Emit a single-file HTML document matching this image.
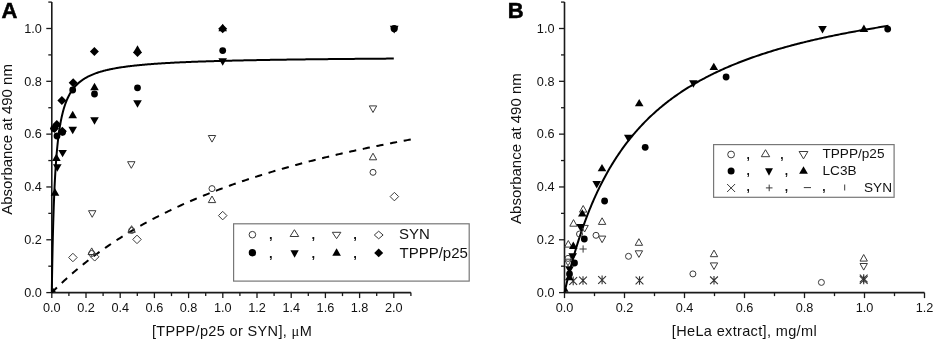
<!DOCTYPE html>
<html><head><meta charset="utf-8"><style>
html,body{margin:0;padding:0;background:#fff;}
svg{display:block;font-family:"Liberation Sans",sans-serif;will-change:transform}
</style></head><body>
<svg width="934" height="341" viewBox="0 0 934 341" style='font-family:"Liberation Sans",sans-serif'>
<rect width="934" height="341" fill="#fff"/>
<path d="M51.8,2.089999999999975L51.8,292.6" stroke="#1a1a1a" stroke-width="1.6" fill="none"/>
<path d="M51.8,292.6L410.90000000000003,292.6" stroke="#1a1a1a" stroke-width="1.6" fill="none"/>
<path d="M46.3,292.60L51.8,292.60" stroke="#1a1a1a" stroke-width="1.3"/>
<text x="41.8" y="296.80" text-anchor="end" font-size="12.7" fill="#111">0.0</text>
<path d="M48.3,266.19L51.8,266.19" stroke="#1a1a1a" stroke-width="1.3"/>
<path d="M46.3,239.78L51.8,239.78" stroke="#1a1a1a" stroke-width="1.3"/>
<text x="41.8" y="243.98" text-anchor="end" font-size="12.7" fill="#111">0.2</text>
<path d="M48.3,213.37L51.8,213.37" stroke="#1a1a1a" stroke-width="1.3"/>
<path d="M46.3,186.96L51.8,186.96" stroke="#1a1a1a" stroke-width="1.3"/>
<text x="41.8" y="191.16" text-anchor="end" font-size="12.7" fill="#111">0.4</text>
<path d="M48.3,160.55L51.8,160.55" stroke="#1a1a1a" stroke-width="1.3"/>
<path d="M46.3,134.14L51.8,134.14" stroke="#1a1a1a" stroke-width="1.3"/>
<text x="41.8" y="138.34" text-anchor="end" font-size="12.7" fill="#111">0.6</text>
<path d="M48.3,107.73L51.8,107.73" stroke="#1a1a1a" stroke-width="1.3"/>
<path d="M46.3,81.32L51.8,81.32" stroke="#1a1a1a" stroke-width="1.3"/>
<text x="41.8" y="85.52" text-anchor="end" font-size="12.7" fill="#111">0.8</text>
<path d="M48.3,54.91L51.8,54.91" stroke="#1a1a1a" stroke-width="1.3"/>
<path d="M46.3,28.50L51.8,28.50" stroke="#1a1a1a" stroke-width="1.3"/>
<text x="41.8" y="32.70" text-anchor="end" font-size="12.7" fill="#111">1.0</text>
<path d="M48.3,2.09L51.8,2.09" stroke="#1a1a1a" stroke-width="1.3"/>
<path d="M51.80,292.6L51.80,298.1" stroke="#1a1a1a" stroke-width="1.3"/>
<text x="51.80" y="311.5" text-anchor="middle" font-size="12.7" fill="#111">0.0</text>
<path d="M86.00,292.6L86.00,298.1" stroke="#1a1a1a" stroke-width="1.3"/>
<text x="86.00" y="311.5" text-anchor="middle" font-size="12.7" fill="#111">0.2</text>
<path d="M120.20,292.6L120.20,298.1" stroke="#1a1a1a" stroke-width="1.3"/>
<text x="120.20" y="311.5" text-anchor="middle" font-size="12.7" fill="#111">0.4</text>
<path d="M154.40,292.6L154.40,298.1" stroke="#1a1a1a" stroke-width="1.3"/>
<text x="154.40" y="311.5" text-anchor="middle" font-size="12.7" fill="#111">0.6</text>
<path d="M188.60,292.6L188.60,298.1" stroke="#1a1a1a" stroke-width="1.3"/>
<text x="188.60" y="311.5" text-anchor="middle" font-size="12.7" fill="#111">0.8</text>
<path d="M222.80,292.6L222.80,298.1" stroke="#1a1a1a" stroke-width="1.3"/>
<text x="222.80" y="311.5" text-anchor="middle" font-size="12.7" fill="#111">1.0</text>
<path d="M257.00,292.6L257.00,298.1" stroke="#1a1a1a" stroke-width="1.3"/>
<text x="257.00" y="311.5" text-anchor="middle" font-size="12.7" fill="#111">1.2</text>
<path d="M291.20,292.6L291.20,298.1" stroke="#1a1a1a" stroke-width="1.3"/>
<text x="291.20" y="311.5" text-anchor="middle" font-size="12.7" fill="#111">1.4</text>
<path d="M325.40,292.6L325.40,298.1" stroke="#1a1a1a" stroke-width="1.3"/>
<text x="325.40" y="311.5" text-anchor="middle" font-size="12.7" fill="#111">1.6</text>
<path d="M359.60,292.6L359.60,298.1" stroke="#1a1a1a" stroke-width="1.3"/>
<text x="359.60" y="311.5" text-anchor="middle" font-size="12.7" fill="#111">1.8</text>
<path d="M393.80,292.6L393.80,298.1" stroke="#1a1a1a" stroke-width="1.3"/>
<text x="393.80" y="311.5" text-anchor="middle" font-size="12.7" fill="#111">2.0</text>
<path d="M68.90,292.6L68.90,296.1" stroke="#1a1a1a" stroke-width="1.3"/>
<path d="M103.10,292.6L103.10,296.1" stroke="#1a1a1a" stroke-width="1.3"/>
<path d="M137.30,292.6L137.30,296.1" stroke="#1a1a1a" stroke-width="1.3"/>
<path d="M171.50,292.6L171.50,296.1" stroke="#1a1a1a" stroke-width="1.3"/>
<path d="M205.70,292.6L205.70,296.1" stroke="#1a1a1a" stroke-width="1.3"/>
<path d="M239.90,292.6L239.90,296.1" stroke="#1a1a1a" stroke-width="1.3"/>
<path d="M274.10,292.6L274.10,296.1" stroke="#1a1a1a" stroke-width="1.3"/>
<path d="M308.30,292.6L308.30,296.1" stroke="#1a1a1a" stroke-width="1.3"/>
<path d="M342.50,292.6L342.50,296.1" stroke="#1a1a1a" stroke-width="1.3"/>
<path d="M376.70,292.6L376.70,296.1" stroke="#1a1a1a" stroke-width="1.3"/>
<path d="M410.90,292.6L410.90,296.1" stroke="#1a1a1a" stroke-width="1.3"/>
<path d="M564.5,2.089999999999975L564.5,292.6" stroke="#1a1a1a" stroke-width="1.6" fill="none"/>
<path d="M564.5,292.6L924.5,292.6" stroke="#1a1a1a" stroke-width="1.6" fill="none"/>
<path d="M559.0,292.60L564.5,292.60" stroke="#1a1a1a" stroke-width="1.3"/>
<text x="554.5" y="296.80" text-anchor="end" font-size="12.7" fill="#111">0.0</text>
<path d="M561.0,266.19L564.5,266.19" stroke="#1a1a1a" stroke-width="1.3"/>
<path d="M559.0,239.78L564.5,239.78" stroke="#1a1a1a" stroke-width="1.3"/>
<text x="554.5" y="243.98" text-anchor="end" font-size="12.7" fill="#111">0.2</text>
<path d="M561.0,213.37L564.5,213.37" stroke="#1a1a1a" stroke-width="1.3"/>
<path d="M559.0,186.96L564.5,186.96" stroke="#1a1a1a" stroke-width="1.3"/>
<text x="554.5" y="191.16" text-anchor="end" font-size="12.7" fill="#111">0.4</text>
<path d="M561.0,160.55L564.5,160.55" stroke="#1a1a1a" stroke-width="1.3"/>
<path d="M559.0,134.14L564.5,134.14" stroke="#1a1a1a" stroke-width="1.3"/>
<text x="554.5" y="138.34" text-anchor="end" font-size="12.7" fill="#111">0.6</text>
<path d="M561.0,107.73L564.5,107.73" stroke="#1a1a1a" stroke-width="1.3"/>
<path d="M559.0,81.32L564.5,81.32" stroke="#1a1a1a" stroke-width="1.3"/>
<text x="554.5" y="85.52" text-anchor="end" font-size="12.7" fill="#111">0.8</text>
<path d="M561.0,54.91L564.5,54.91" stroke="#1a1a1a" stroke-width="1.3"/>
<path d="M559.0,28.50L564.5,28.50" stroke="#1a1a1a" stroke-width="1.3"/>
<text x="554.5" y="32.70" text-anchor="end" font-size="12.7" fill="#111">1.0</text>
<path d="M561.0,2.09L564.5,2.09" stroke="#1a1a1a" stroke-width="1.3"/>
<path d="M564.50,292.6L564.50,298.1" stroke="#1a1a1a" stroke-width="1.3"/>
<text x="564.50" y="311.5" text-anchor="middle" font-size="12.7" fill="#111">0.0</text>
<path d="M624.50,292.6L624.50,298.1" stroke="#1a1a1a" stroke-width="1.3"/>
<text x="624.50" y="311.5" text-anchor="middle" font-size="12.7" fill="#111">0.2</text>
<path d="M684.50,292.6L684.50,298.1" stroke="#1a1a1a" stroke-width="1.3"/>
<text x="684.50" y="311.5" text-anchor="middle" font-size="12.7" fill="#111">0.4</text>
<path d="M744.50,292.6L744.50,298.1" stroke="#1a1a1a" stroke-width="1.3"/>
<text x="744.50" y="311.5" text-anchor="middle" font-size="12.7" fill="#111">0.6</text>
<path d="M804.50,292.6L804.50,298.1" stroke="#1a1a1a" stroke-width="1.3"/>
<text x="804.50" y="311.5" text-anchor="middle" font-size="12.7" fill="#111">0.8</text>
<path d="M864.50,292.6L864.50,298.1" stroke="#1a1a1a" stroke-width="1.3"/>
<text x="864.50" y="311.5" text-anchor="middle" font-size="12.7" fill="#111">1.0</text>
<path d="M924.50,292.6L924.50,298.1" stroke="#1a1a1a" stroke-width="1.3"/>
<text x="924.50" y="311.5" text-anchor="middle" font-size="12.7" fill="#111">1.2</text>
<path d="M594.50,292.6L594.50,296.1" stroke="#1a1a1a" stroke-width="1.3"/>
<path d="M654.50,292.6L654.50,296.1" stroke="#1a1a1a" stroke-width="1.3"/>
<path d="M714.50,292.6L714.50,296.1" stroke="#1a1a1a" stroke-width="1.3"/>
<path d="M774.50,292.6L774.50,296.1" stroke="#1a1a1a" stroke-width="1.3"/>
<path d="M834.50,292.6L834.50,296.1" stroke="#1a1a1a" stroke-width="1.3"/>
<path d="M894.50,292.6L894.50,296.1" stroke="#1a1a1a" stroke-width="1.3"/>
<text x="1.6" y="18.2" font-size="22" font-weight="bold" fill="#000" stroke="#000" stroke-width="0.5">A</text>
<text x="507.8" y="18.2" font-size="22" font-weight="bold" fill="#000" stroke="#000" stroke-width="0.5">B</text>
<text transform="translate(11.9,139.4) rotate(-90) scale(1.07,1)" text-anchor="middle" font-size="14" fill="#111">Absorbance at 490 nm</text>
<text transform="translate(521.3,148.6) rotate(-90) scale(1.07,1)" text-anchor="middle" font-size="14" fill="#111">Absorbance at 490 nm</text>
<text x="232" y="335.8" text-anchor="middle" font-size="14.5" letter-spacing="0.35" fill="#111">[TPPP/p25 or SYN], <tspan font-family="Liberation Serif">&#956;</tspan>M</text>
<text x="744.4" y="335.8" text-anchor="middle" font-size="14.5" letter-spacing="0.35" fill="#111">[HeLa extract], mg/ml</text>
<path d="M51.80,292.60 L51.80,292.45 L51.81,292.01 L51.82,291.28 L51.83,290.26 L51.85,288.96 L51.88,287.40 L51.90,285.58 L51.94,283.51 L51.97,281.21 L52.01,278.70 L52.06,275.98 L52.11,273.08 L52.16,270.02 L52.22,266.80 L52.28,263.46 L52.35,260.00 L52.42,256.44 L52.49,252.80 L52.57,249.09 L52.65,245.33 L52.74,241.53 L52.83,237.70 L52.93,233.87 L53.03,230.03 L53.14,226.20 L53.24,222.40 L53.36,218.61 L53.48,214.87 L53.60,211.16 L53.72,207.51 L53.85,203.90 L53.99,200.36 L54.13,196.87 L54.27,193.46 L54.42,190.10 L54.57,186.82 L54.73,183.61 L54.89,180.47 L55.05,177.41 L55.22,174.42 L55.39,171.50 L55.57,168.65 L55.75,165.88 L55.94,163.19 L56.13,160.56 L56.32,158.00 L56.52,155.52 L56.72,153.10 L56.93,150.75 L57.14,148.47 L57.36,146.25 L57.58,144.10 L57.80,142.01 L58.03,139.98 L58.27,138.00 L58.50,136.09 L58.74,134.22 L58.99,132.42 L59.24,130.66 L59.49,128.96 L59.75,127.31 L60.02,125.70 L60.28,124.14 L60.56,122.63 L60.83,121.16 L61.11,119.73 L61.40,118.34 L61.68,116.99 L61.98,115.69 L62.27,114.41 L62.58,113.18 L62.88,111.98 L63.19,110.81 L63.50,109.68 L63.82,108.58 L64.15,107.50 L64.47,106.46 L64.80,105.45 L65.14,104.46 L65.48,103.50 L65.82,102.57 L66.17,101.66 L66.53,100.78 L66.88,99.92 L67.24,99.09 L67.61,98.27 L67.98,97.48 L68.35,96.70 L68.73,95.95 L69.11,95.22 L69.50,94.51 L69.89,93.81 L70.29,93.13 L70.69,92.47 L71.09,91.82 L71.50,91.20 L71.91,90.58 L72.33,89.99 L72.75,89.40 L73.17,88.83 L73.60,88.28 L74.04,87.74 L74.48,87.21 L74.92,86.69 L75.37,86.19 L75.82,85.69 L76.27,85.21 L76.73,84.74 L77.20,84.28 L77.66,83.84 L78.14,83.40 L78.61,82.97 L79.09,82.55 L79.58,82.14 L80.07,81.74 L80.56,81.35 L81.06,80.97 L81.56,80.59 L82.07,80.23 L82.58,79.87 L83.10,79.52 L83.61,79.17 L84.14,78.84 L84.67,78.51 L85.20,78.19 L85.73,77.87 L86.28,77.56 L86.82,77.26 L87.37,76.96 L87.92,76.67 L88.48,76.39 L89.04,76.11 L89.61,75.84 L90.18,75.57 L90.76,75.31 L91.34,75.05 L91.92,74.80 L92.51,74.55 L93.10,74.31 L93.69,74.07 L94.30,73.84 L94.90,73.61 L95.51,73.38 L96.12,73.16 L96.74,72.95 L97.36,72.73 L97.99,72.53 L98.62,72.32 L99.25,72.12 L99.89,71.92 L100.54,71.73 L101.18,71.54 L101.84,71.35 L102.49,71.17 L103.15,70.99 L103.82,70.81 L104.49,70.64 L105.16,70.47 L105.84,70.30 L106.52,70.13 L107.21,69.97 L107.90,69.81 L108.59,69.66 L109.29,69.50 L109.99,69.35 L110.70,69.20 L111.41,69.06 L112.13,68.91 L112.85,68.77 L113.57,68.63 L114.30,68.49 L115.04,68.36 L115.77,68.23 L116.51,68.09 L117.26,67.97 L118.01,67.84 L118.77,67.72 L119.52,67.59 L120.29,67.47 L121.06,67.35 L121.83,67.24 L122.60,67.12 L123.38,67.01 L124.17,66.90 L124.96,66.79 L125.75,66.68 L126.55,66.57 L127.35,66.47 L128.15,66.36 L128.96,66.26 L129.78,66.16 L130.60,66.06 L131.42,65.97 L132.25,65.87 L133.08,65.77 L133.91,65.68 L134.75,65.59 L135.60,65.50 L136.45,65.41 L137.30,65.32 L138.16,65.23 L139.02,65.15 L139.88,65.06 L140.75,64.98 L141.63,64.90 L142.51,64.82 L143.39,64.74 L144.28,64.66 L145.17,64.58 L146.06,64.51 L146.96,64.43 L147.87,64.36 L148.78,64.28 L149.69,64.21 L150.61,64.14 L151.53,64.07 L152.45,64.00 L153.38,63.93 L154.32,63.86 L155.25,63.79 L156.20,63.73 L157.14,63.66 L158.10,63.60 L159.05,63.53 L160.01,63.47 L160.97,63.41 L161.94,63.35 L162.92,63.29 L163.89,63.23 L164.87,63.17 L165.86,63.11 L166.85,63.05 L167.84,63.00 L168.84,62.94 L169.84,62.89 L170.85,62.83 L171.86,62.78 L172.88,62.72 L173.90,62.67 L174.92,62.62 L175.95,62.57 L176.98,62.52 L178.02,62.47 L179.06,62.42 L180.10,62.37 L181.15,62.32 L182.21,62.27 L183.26,62.22 L184.33,62.18 L185.39,62.13 L186.46,62.08 L187.54,62.04 L188.62,61.99 L189.70,61.95 L190.79,61.91 L191.88,61.86 L192.98,61.82 L194.08,61.78 L195.19,61.74 L196.30,61.70 L197.41,61.65 L198.53,61.61 L199.65,61.57 L200.78,61.54 L201.91,61.50 L203.04,61.46 L204.18,61.42 L205.32,61.38 L206.47,61.34 L207.62,61.31 L208.78,61.27 L209.94,61.23 L211.11,61.20 L212.27,61.16 L213.45,61.13 L214.63,61.09 L215.81,61.06 L216.99,61.02 L218.19,60.99 L219.38,60.96 L220.58,60.92 L221.78,60.89 L222.99,60.86 L224.20,60.83 L225.42,60.80 L226.64,60.77 L227.86,60.73 L229.09,60.70 L230.33,60.67 L231.56,60.64 L232.81,60.61 L234.05,60.58 L235.30,60.56 L236.56,60.53 L237.82,60.50 L239.08,60.47 L240.35,60.44 L241.62,60.41 L242.89,60.39 L244.18,60.36 L245.46,60.33 L246.75,60.31 L248.04,60.28 L249.34,60.25 L250.64,60.23 L251.95,60.20 L253.26,60.18 L254.57,60.15 L255.89,60.13 L257.21,60.10 L258.54,60.08 L259.87,60.05 L261.21,60.03 L262.55,60.01 L263.89,59.98 L265.24,59.96 L266.60,59.94 L267.95,59.91 L269.31,59.89 L270.68,59.87 L272.05,59.84 L273.42,59.82 L274.80,59.80 L276.19,59.78 L277.57,59.76 L278.96,59.74 L280.36,59.72 L281.76,59.69 L283.17,59.67 L284.57,59.65 L285.99,59.63 L287.40,59.61 L288.83,59.59 L290.25,59.57 L291.68,59.55 L293.12,59.53 L294.55,59.51 L296.00,59.50 L297.44,59.48 L298.89,59.46 L300.35,59.44 L301.81,59.42 L303.27,59.40 L304.74,59.38 L306.22,59.37 L307.69,59.35 L309.17,59.33 L310.66,59.31 L312.15,59.30 L313.64,59.28 L315.14,59.26 L316.64,59.24 L318.15,59.23 L319.66,59.21 L321.18,59.19 L322.70,59.18 L324.22,59.16 L325.75,59.14 L327.28,59.13 L328.82,59.11 L330.36,59.10 L331.91,59.08 L333.46,59.07 L335.01,59.05 L336.57,59.04 L338.13,59.02 L339.70,59.01 L341.27,58.99 L342.84,58.98 L344.42,58.96 L346.01,58.95 L347.60,58.93 L349.19,58.92 L350.78,58.90 L352.39,58.89 L353.99,58.88 L355.60,58.86 L357.21,58.85 L358.83,58.83 L360.45,58.82 L362.08,58.81 L363.71,58.79 L365.35,58.78 L366.99,58.77 L368.63,58.75 L370.28,58.74 L371.93,58.73 L373.59,58.72 L375.25,58.70 L376.91,58.69 L378.58,58.68 L380.26,58.67 L381.93,58.65 L383.62,58.64 L385.30,58.63 L386.99,58.62 L388.69,58.61 L390.39,58.59 L392.09,58.58 L393.80,58.57" stroke="#000" stroke-width="2" fill="none"/>
<path d="M51.80,292.60 L53.60,290.81 L55.39,289.03 L57.19,287.29 L58.98,285.56 L60.78,283.86 L62.57,282.18 L64.37,280.53 L66.16,278.89 L67.96,277.28 L69.75,275.68 L71.55,274.11 L73.35,272.55 L75.14,271.02 L76.94,269.50 L78.73,268.01 L80.53,266.53 L82.32,265.07 L84.12,263.62 L85.91,262.20 L87.71,260.79 L89.51,259.40 L91.30,258.02 L93.10,256.66 L94.89,255.32 L96.69,253.99 L98.48,252.68 L100.28,251.38 L102.07,250.10 L103.87,248.83 L105.66,247.58 L107.46,246.34 L109.26,245.12 L111.05,243.90 L112.85,242.71 L114.64,241.52 L116.44,240.35 L118.23,239.19 L120.03,238.04 L121.82,236.91 L123.62,235.78 L125.42,234.67 L127.21,233.57 L129.01,232.49 L130.80,231.41 L132.60,230.35 L134.39,229.29 L136.19,228.25 L137.98,227.22 L139.78,226.19 L141.57,225.18 L143.37,224.18 L145.17,223.19 L146.96,222.21 L148.76,221.24 L150.55,220.28 L152.35,219.32 L154.14,218.38 L155.94,217.45 L157.73,216.52 L159.53,215.61 L161.33,214.70 L163.12,213.80 L164.92,212.91 L166.71,212.03 L168.51,211.16 L170.30,210.29 L172.10,209.44 L173.89,208.59 L175.69,207.75 L177.49,206.91 L179.28,206.09 L181.08,205.27 L182.87,204.46 L184.67,203.66 L186.46,202.86 L188.26,202.07 L190.05,201.29 L191.85,200.52 L193.64,199.75 L195.44,198.99 L197.24,198.23 L199.03,197.48 L200.83,196.74 L202.62,196.01 L204.42,195.28 L206.21,194.56 L208.01,193.84 L209.80,193.13 L211.60,192.43 L213.39,191.73 L215.19,191.04 L216.99,190.35 L218.78,189.67 L220.58,188.99 L222.37,188.32 L224.17,187.66 L225.96,187.00 L227.76,186.35 L229.55,185.70 L231.35,185.06 L233.15,184.42 L234.94,183.79 L236.74,183.16 L238.53,182.54 L240.33,181.92 L242.12,181.31 L243.92,180.70 L245.71,180.10 L247.51,179.50 L249.31,178.90 L251.10,178.31 L252.90,177.73 L254.69,177.15 L256.49,176.58 L258.28,176.00 L260.08,175.44 L261.87,174.87 L263.67,174.32 L265.46,173.76 L267.26,173.21 L269.06,172.67 L270.85,172.12 L272.65,171.59 L274.44,171.05 L276.24,170.52 L278.03,170.00 L279.83,169.48 L281.62,168.96 L283.42,168.44 L285.22,167.93 L287.01,167.42 L288.81,166.92 L290.60,166.42 L292.40,165.92 L294.19,165.43 L295.99,164.94 L297.78,164.46 L299.58,163.97 L301.37,163.50 L303.17,163.02 L304.97,162.55 L306.76,162.08 L308.56,161.61 L310.35,161.15 L312.15,160.69 L313.94,160.23 L315.74,159.78 L317.53,159.33 L319.33,158.88 L321.13,158.44 L322.92,158.00 L324.72,157.56 L326.51,157.12 L328.31,156.69 L330.10,156.26 L331.90,155.83 L333.69,155.41 L335.49,154.99 L337.28,154.57 L339.08,154.15 L340.88,153.74 L342.67,153.33 L344.47,152.92 L346.26,152.52 L348.06,152.12 L349.85,151.72 L351.65,151.32 L353.44,150.92 L355.24,150.53 L357.04,150.14 L358.83,149.75 L360.63,149.37 L362.42,148.99 L364.22,148.61 L366.01,148.23 L367.81,147.85 L369.60,147.48 L371.40,147.11 L373.19,146.74 L374.99,146.37 L376.79,146.01 L378.58,145.65 L380.38,145.29 L382.17,144.93 L383.97,144.57 L385.76,144.22 L387.56,143.87 L389.35,143.52 L391.15,143.17 L392.94,142.83 L394.74,142.49 L396.54,142.14 L398.33,141.81 L400.13,141.47 L401.92,141.13 L403.72,140.80 L405.51,140.47 L407.31,140.14 L409.10,139.81 L410.90,139.49" stroke="#000" stroke-width="2" fill="none" stroke-dasharray="7.2,6.7"/>
<path d="M564.50,292.60 L564.56,292.32 L564.68,291.82 L564.82,291.17 L565.00,290.40 L565.20,289.54 L565.42,288.59 L565.65,287.56 L565.91,286.47 L566.18,285.31 L566.47,284.09 L566.77,282.82 L567.09,281.50 L567.42,280.14 L567.77,278.74 L568.12,277.30 L568.49,275.82 L568.87,274.32 L569.26,272.78 L569.66,271.21 L570.08,269.62 L570.50,268.01 L570.93,266.37 L571.38,264.72 L571.83,263.05 L572.29,261.36 L572.77,259.66 L573.25,257.94 L573.74,256.21 L574.24,254.48 L574.75,252.73 L575.26,250.97 L575.79,249.21 L576.32,247.45 L576.86,245.67 L577.41,243.90 L577.97,242.12 L578.53,240.34 L579.11,238.56 L579.69,236.78 L580.27,235.00 L580.87,233.22 L581.47,231.44 L582.08,229.66 L582.70,227.89 L583.32,226.12 L583.95,224.36 L584.59,222.60 L585.24,220.85 L585.89,219.10 L586.55,217.36 L587.21,215.62 L587.88,213.89 L588.56,212.17 L589.24,210.46 L589.93,208.75 L590.63,207.05 L591.33,205.37 L592.04,203.69 L592.76,202.01 L593.48,200.35 L594.21,198.70 L594.94,197.06 L595.68,195.43 L596.43,193.80 L597.18,192.19 L597.93,190.59 L598.70,189.00 L599.46,187.42 L600.24,185.85 L601.02,184.29 L601.80,182.74 L602.59,181.20 L603.39,179.68 L604.19,178.16 L605.00,176.66 L605.81,175.17 L606.63,173.68 L607.45,172.21 L608.28,170.76 L609.12,169.31 L609.96,167.87 L610.80,166.45 L611.65,165.03 L612.50,163.63 L613.36,162.24 L614.23,160.86 L615.10,159.49 L615.97,158.14 L616.85,156.79 L617.74,155.46 L618.63,154.13 L619.52,152.82 L620.42,151.52 L621.33,150.23 L622.24,148.95 L623.15,147.68 L624.07,146.42 L624.99,145.18 L625.92,143.94 L626.85,142.72 L627.79,141.50 L628.73,140.30 L629.68,139.10 L630.63,137.92 L631.59,136.75 L632.55,135.59 L633.51,134.43 L634.48,133.29 L635.46,132.16 L636.44,131.04 L637.42,129.93 L638.41,128.83 L639.40,127.73 L640.40,126.65 L641.40,125.58 L642.40,124.51 L643.41,123.46 L644.43,122.42 L645.44,121.38 L646.47,120.36 L647.49,119.34 L648.52,118.33 L649.56,117.33 L650.60,116.34 L651.64,115.36 L652.69,114.39 L653.74,113.43 L654.80,112.47 L655.86,111.53 L656.92,110.59 L657.99,109.66 L659.06,108.74 L660.14,107.83 L661.22,106.92 L662.31,106.03 L663.39,105.14 L664.49,104.26 L665.58,103.38 L666.68,102.52 L667.79,101.66 L668.90,100.81 L670.01,99.97 L671.13,99.13 L672.25,98.31 L673.37,97.49 L674.50,96.67 L675.63,95.87 L676.77,95.07 L677.91,94.28 L679.05,93.49 L680.20,92.72 L681.35,91.94 L682.50,91.18 L683.66,90.42 L684.83,89.67 L685.99,88.93 L687.16,88.19 L688.34,87.46 L689.51,86.73 L690.70,86.02 L691.88,85.30 L693.07,84.60 L694.26,83.90 L695.46,83.20 L696.66,82.51 L697.86,81.83 L699.07,81.16 L700.28,80.48 L701.49,79.82 L702.71,79.16 L703.93,78.51 L705.16,77.86 L706.38,77.22 L707.62,76.58 L708.85,75.95 L710.09,75.32 L711.33,74.70 L712.58,74.08 L713.83,73.47 L715.08,72.87 L716.34,72.27 L717.60,71.67 L718.86,71.08 L720.13,70.50 L721.40,69.91 L722.67,69.34 L723.95,68.77 L725.23,68.20 L726.52,67.64 L727.80,67.08 L729.09,66.53 L730.39,65.98 L731.69,65.44 L732.99,64.90 L734.29,64.36 L735.60,63.83 L736.91,63.31 L738.22,62.78 L739.54,62.27 L740.86,61.75 L742.19,61.24 L743.52,60.74 L744.85,60.24 L746.18,59.74 L747.52,59.25 L748.86,58.76 L750.20,58.27 L751.55,57.79 L752.90,57.31 L754.25,56.84 L755.61,56.37 L756.97,55.90 L758.34,55.44 L759.70,54.98 L761.07,54.52 L762.44,54.07 L763.82,53.62 L765.20,53.18 L766.58,52.73 L767.97,52.30 L769.36,51.86 L770.75,51.43 L772.14,51.00 L773.54,50.58 L774.94,50.15 L776.35,49.73 L777.76,49.32 L779.17,48.91 L780.58,48.50 L782.00,48.09 L783.42,47.69 L784.84,47.29 L786.27,46.89 L787.70,46.50 L789.13,46.11 L790.56,45.72 L792.00,45.33 L793.44,44.95 L794.89,44.57 L796.34,44.19 L797.79,43.82 L799.24,43.45 L800.70,43.08 L802.16,42.71 L803.62,42.35 L805.08,41.99 L806.55,41.63 L808.02,41.28 L809.50,40.92 L810.98,40.57 L812.46,40.23 L813.94,39.88 L815.42,39.54 L816.91,39.20 L818.41,38.86 L819.90,38.52 L821.40,38.19 L822.90,37.86 L824.40,37.53 L825.91,37.21 L827.42,36.88 L828.93,36.56 L830.45,36.24 L831.97,35.92 L833.49,35.61 L835.01,35.30 L836.54,34.99 L838.07,34.68 L839.60,34.37 L841.14,34.07 L842.67,33.77 L844.22,33.47 L845.76,33.17 L847.31,32.87 L848.86,32.58 L850.41,32.29 L851.96,32.00 L853.52,31.71 L855.08,31.42 L856.65,31.14 L858.21,30.86 L859.78,30.58 L861.35,30.30 L862.93,30.02 L864.51,29.75 L866.09,29.48 L867.67,29.21 L869.26,28.94 L870.84,28.67 L872.44,28.40 L874.03,28.14 L875.63,27.88 L877.23,27.62 L878.83,27.36 L880.43,27.10 L882.04,26.85 L883.65,26.59 L885.27,26.34 L886.88,26.09 L888.50,25.84" stroke="#000" stroke-width="2" fill="none"/>
<circle cx="91.7" cy="253.5" r="3.0" fill="none" stroke="#3a3a3a" stroke-width="1"/>
<circle cx="131.6" cy="230.5" r="3.0" fill="none" stroke="#3a3a3a" stroke-width="1"/>
<circle cx="212" cy="188.6" r="3.0" fill="none" stroke="#3a3a3a" stroke-width="1"/>
<circle cx="373" cy="172.3" r="3.0" fill="none" stroke="#3a3a3a" stroke-width="1"/>
<polygon points="91.70,247.90 95.40,254.50 88.00,254.50" fill="none" stroke="#3a3a3a" stroke-width="1"/>
<polygon points="131.60,225.70 135.30,232.30 127.90,232.30" fill="none" stroke="#3a3a3a" stroke-width="1"/>
<polygon points="212.00,196.00 215.70,202.60 208.30,202.60" fill="none" stroke="#3a3a3a" stroke-width="1"/>
<polygon points="373.00,153.20 376.70,159.80 369.30,159.80" fill="none" stroke="#3a3a3a" stroke-width="1"/>
<polygon points="92.20,217.30 95.90,210.70 88.50,210.70" fill="none" stroke="#3a3a3a" stroke-width="1"/>
<polygon points="131.30,168.30 135.00,161.70 127.60,161.70" fill="none" stroke="#3a3a3a" stroke-width="1"/>
<polygon points="212.00,142.10 215.70,135.50 208.30,135.50" fill="none" stroke="#3a3a3a" stroke-width="1"/>
<polygon points="373.00,112.50 376.70,105.90 369.30,105.90" fill="none" stroke="#3a3a3a" stroke-width="1"/>
<polygon points="72.90,253.25 77.15,257.50 72.90,261.75 68.65,257.50" fill="none" stroke="#3a3a3a" stroke-width="1"/>
<polygon points="94.70,252.55 98.95,256.80 94.70,261.05 90.45,256.80" fill="none" stroke="#3a3a3a" stroke-width="1"/>
<polygon points="137.00,235.15 141.25,239.40 137.00,243.65 132.75,239.40" fill="none" stroke="#3a3a3a" stroke-width="1"/>
<polygon points="222.70,211.35 226.95,215.60 222.70,219.85 218.45,215.60" fill="none" stroke="#3a3a3a" stroke-width="1"/>
<polygon points="394.40,192.35 398.65,196.60 394.40,200.85 390.15,196.60" fill="none" stroke="#3a3a3a" stroke-width="1"/>
<polygon points="53.50,288.00 55.75,292.00 51.25,292.00" fill="#000"/>
<circle cx="53.8" cy="128.5" r="3.4" fill="#000"/>
<circle cx="57" cy="136" r="3.4" fill="#000"/>
<circle cx="62.6" cy="132.3" r="3.4" fill="#000"/>
<circle cx="72.7" cy="90" r="3.4" fill="#000"/>
<circle cx="94.5" cy="94" r="3.4" fill="#000"/>
<circle cx="137.5" cy="87.8" r="3.4" fill="#000"/>
<circle cx="222.7" cy="50.6" r="3.4" fill="#000"/>
<circle cx="394.2" cy="28.6" r="3.6" fill="#000"/>
<polygon points="57.30,171.70 61.60,164.30 53.00,164.30" fill="#000"/>
<polygon points="62.60,157.30 66.90,149.90 58.30,149.90" fill="#000"/>
<polygon points="72.70,134.20 77.00,126.80 68.40,126.80" fill="#000"/>
<polygon points="94.50,124.70 98.80,117.30 90.20,117.30" fill="#000"/>
<polygon points="137.50,107.70 141.80,100.30 133.20,100.30" fill="#000"/>
<polygon points="222.70,65.70 227.00,58.30 218.40,58.30" fill="#000"/>
<polygon points="394.20,33.50 398.60,25.70 389.80,25.70" fill="#000"/>
<polygon points="55.00,188.30 59.30,195.70 50.70,195.70" fill="#000"/>
<polygon points="56.40,153.50 60.70,160.90 52.10,160.90" fill="#000"/>
<polygon points="72.70,110.80 77.00,118.20 68.40,118.20" fill="#000"/>
<polygon points="94.50,82.80 98.80,90.20 90.20,90.20" fill="#000"/>
<polygon points="137.50,45.30 141.80,52.70 133.20,52.70" fill="#000"/>
<polygon points="222.70,23.80 227.00,31.20 218.40,31.20" fill="#000"/>
<polygon points="62.30,126.70 66.80,131.20 62.30,135.70 57.80,131.20" fill="#000"/>
<polygon points="54.40,124.00 58.90,128.50 54.40,133.00 49.90,128.50" fill="#000"/>
<polygon points="56.80,120.00 61.30,124.50 56.80,129.00 52.30,124.50" fill="#000"/>
<polygon points="61.90,96.10 66.40,100.60 61.90,105.10 57.40,100.60" fill="#000"/>
<polygon points="73.20,78.30 77.70,82.80 73.20,87.30 68.70,82.80" fill="#000"/>
<polygon points="94.40,47.00 98.90,51.50 94.40,56.00 89.90,51.50" fill="#000"/>
<polygon points="137.50,48.00 142.00,52.50 137.50,57.00 133.00,52.50" fill="#000"/>
<polygon points="222.70,24.30 227.20,28.80 222.70,33.30 218.20,28.80" fill="#000"/>
<circle cx="568" cy="258.4" r="3.0" fill="none" stroke="#3a3a3a" stroke-width="1"/>
<circle cx="579.5" cy="234" r="3.0" fill="none" stroke="#3a3a3a" stroke-width="1"/>
<circle cx="596" cy="235.3" r="3.0" fill="none" stroke="#3a3a3a" stroke-width="1"/>
<circle cx="628.5" cy="256.3" r="3.0" fill="none" stroke="#3a3a3a" stroke-width="1"/>
<circle cx="692.9" cy="273.9" r="3.0" fill="none" stroke="#3a3a3a" stroke-width="1"/>
<circle cx="821.4" cy="282.4" r="3.0" fill="none" stroke="#3a3a3a" stroke-width="1"/>
<polygon points="568.30,240.50 572.00,247.10 564.60,247.10" fill="none" stroke="#3a3a3a" stroke-width="1"/>
<polygon points="573.50,219.60 577.20,226.20 569.80,226.20" fill="none" stroke="#3a3a3a" stroke-width="1"/>
<polygon points="583.20,205.50 586.90,212.10 579.50,212.10" fill="none" stroke="#3a3a3a" stroke-width="1"/>
<polygon points="602.10,217.80 605.80,224.40 598.40,224.40" fill="none" stroke="#3a3a3a" stroke-width="1"/>
<polygon points="638.90,238.70 642.60,245.30 635.20,245.30" fill="none" stroke="#3a3a3a" stroke-width="1"/>
<polygon points="714.00,250.10 717.70,256.70 710.30,256.70" fill="none" stroke="#3a3a3a" stroke-width="1"/>
<polygon points="863.70,254.50 867.40,261.10 860.00,261.10" fill="none" stroke="#3a3a3a" stroke-width="1"/>
<polygon points="568.00,265.80 571.70,259.20 564.30,259.20" fill="none" stroke="#3a3a3a" stroke-width="1"/>
<polygon points="584.60,232.00 588.30,225.40 580.90,225.40" fill="none" stroke="#3a3a3a" stroke-width="1"/>
<polygon points="602.10,242.70 605.80,236.10 598.40,236.10" fill="none" stroke="#3a3a3a" stroke-width="1"/>
<polygon points="638.90,257.40 642.60,250.80 635.20,250.80" fill="none" stroke="#3a3a3a" stroke-width="1"/>
<polygon points="714.00,269.50 717.70,262.90 710.30,262.90" fill="none" stroke="#3a3a3a" stroke-width="1"/>
<polygon points="863.70,270.10 867.40,263.50 860.00,263.50" fill="none" stroke="#3a3a3a" stroke-width="1"/>
<path d="M569.3000000000001,277.09999999999997L577.1,284.79999999999995M577.1,277.09999999999997L569.3000000000001,284.79999999999995M573.2,276.59999999999997L573.2,285.2" stroke="#333" stroke-width="1.1" fill="none"/>
<path d="M579.1,276.7L586.9,284.4M586.9,276.7L579.1,284.4M583,276.2L583,284.8" stroke="#333" stroke-width="1.1" fill="none"/>
<path d="M598.2,276.09999999999997L606.0,283.79999999999995M606.0,276.09999999999997L598.2,283.79999999999995M602.1,275.59999999999997L602.1,284.2" stroke="#333" stroke-width="1.1" fill="none"/>
<path d="M635.6,276.7L643.4,284.4M643.4,276.7L635.6,284.4M639.5,276.2L639.5,284.8" stroke="#333" stroke-width="1.1" fill="none"/>
<path d="M710.1,276.5L717.9,284.2M717.9,276.5L710.1,284.2M714,276.0L714,284.6" stroke="#333" stroke-width="1.1" fill="none"/>
<path d="M859.8000000000001,274.7L867.6,282.4M867.6,274.7L859.8000000000001,282.4M863.7,274.2L863.7,282.8" stroke="#333" stroke-width="1.1" fill="none"/>
<path d="M859.8000000000001,276.2L867.6,283.9M867.6,276.2L859.8000000000001,283.9M863.7,275.7L863.7,284.3" stroke="#333" stroke-width="1.1" fill="none"/>
<path d="M579.5,249L586.7,249M583.1,245.4L583.1,252.6" stroke="#3a3a3a" stroke-width="1" fill="none"/>
<circle cx="569.5" cy="274" r="3.4" fill="#000"/>
<circle cx="574.5" cy="263" r="3.4" fill="#000"/>
<circle cx="584.3" cy="239" r="3.4" fill="#000"/>
<circle cx="604.6" cy="201" r="3.4" fill="#000"/>
<circle cx="645.2" cy="147.3" r="3.4" fill="#000"/>
<circle cx="726.1" cy="77" r="3.4" fill="#000"/>
<circle cx="887.7" cy="29.1" r="3.4" fill="#000"/>
<polygon points="569.50,273.70 573.80,266.30 565.20,266.30" fill="#000"/>
<polygon points="572.70,260.70 577.00,253.30 568.40,253.30" fill="#000"/>
<polygon points="580.50,231.30 584.80,223.90 576.20,223.90" fill="#000"/>
<polygon points="596.70,188.50 601.00,181.10 592.40,181.10" fill="#000"/>
<polygon points="628.30,142.20 632.60,134.80 624.00,134.80" fill="#000"/>
<polygon points="693.40,87.70 697.70,80.30 689.10,80.30" fill="#000"/>
<polygon points="822.50,33.50 826.80,26.10 818.20,26.10" fill="#000"/>
<polygon points="573.30,241.60 577.60,249.00 569.00,249.00" fill="#000"/>
<polygon points="582.30,209.20 586.60,216.60 578.00,216.60" fill="#000"/>
<polygon points="602.00,163.90 606.30,171.30 597.70,171.30" fill="#000"/>
<polygon points="639.20,98.90 643.50,106.30 634.90,106.30" fill="#000"/>
<polygon points="713.80,62.70 718.10,70.10 709.50,70.10" fill="#000"/>
<polygon points="863.90,24.60 868.20,32.00 859.60,32.00" fill="#000"/>
<polygon points="566.30,287.80 568.55,291.80 564.05,291.80" fill="#000"/>
<polygon points="569.30,272.80 573.60,280.20 565.00,280.20" fill="#000"/>
<rect x="233.6" y="223.8" width="235.6" height="57.3" fill="#fff" stroke="#777" stroke-width="1.2"/>
<circle cx="252.4" cy="234.7" r="3.3" fill="none" stroke="#3a3a3a" stroke-width="1"/>
<polygon points="294.40,229.70 298.70,236.50 290.10,236.50" fill="none" stroke="#3a3a3a" stroke-width="1"/>
<polygon points="336.60,238.70 340.90,232.30 332.30,232.30" fill="none" stroke="#3a3a3a" stroke-width="1"/>
<polygon points="378.70,231.20 383.10,235.00 378.70,238.80 374.30,235.00" fill="none" stroke="#3a3a3a" stroke-width="1"/>
<circle cx="252.4" cy="252.7" r="3.7" fill="#000"/>
<polygon points="294.60,257.70 298.75,250.30 290.45,250.30" fill="#000"/>
<polygon points="336.60,248.30 340.90,255.70 332.30,255.70" fill="#000"/>
<polygon points="378.70,248.50 383.20,252.90 378.70,257.30 374.20,252.90" fill="#000"/>
<text x="270.8" y="239" text-anchor="middle" font-size="13" font-weight="bold" fill="#111">,</text>
<text x="270.8" y="258.4" text-anchor="middle" font-size="13" font-weight="bold" fill="#111">,</text>
<text x="313.2" y="239" text-anchor="middle" font-size="13" font-weight="bold" fill="#111">,</text>
<text x="313.2" y="258.4" text-anchor="middle" font-size="13" font-weight="bold" fill="#111">,</text>
<text x="355" y="239" text-anchor="middle" font-size="13" font-weight="bold" fill="#111">,</text>
<text x="355" y="258.4" text-anchor="middle" font-size="13" font-weight="bold" fill="#111">,</text>
<text x="399" y="239.3" font-size="15" fill="#111">SYN</text>
<text x="399.5" y="257.7" font-size="15" fill="#111">TPPP/p25</text>
<rect x="713.6" y="144.6" width="180.5" height="52.7" fill="#fff" stroke="#777" stroke-width="1.2"/>
<circle cx="731.1" cy="154.5" r="3.4" fill="none" stroke="#3a3a3a" stroke-width="1"/>
<polygon points="765.50,149.70 769.70,156.70 761.30,156.70" fill="none" stroke="#3a3a3a" stroke-width="1"/>
<polygon points="803.50,158.90 807.90,151.50 799.10,151.50" fill="none" stroke="#3a3a3a" stroke-width="1"/>
<circle cx="731.1" cy="170.9" r="3.5" fill="#000"/>
<polygon points="769.00,175.65 772.95,168.35 765.05,168.35" fill="#000"/>
<polygon points="803.50,166.25 807.90,173.75 799.10,173.75" fill="#000"/>
<path d="M727.1,184L735.1,192M727.1,192L735.1,184" stroke="#3a3a3a" stroke-width="1" fill="none"/>
<path d="M765.9000000000001,187.9L772.5,187.9M769.2,184.6L769.2,191.20000000000002" stroke="#3a3a3a" stroke-width="1" fill="none"/>
<path d="M803.8,187.6L811.0,187.6" stroke="#3a3a3a" stroke-width="1" fill="none"/>
<path d="M844.7,184.5L844.7,190.5" stroke="#3a3a3a" stroke-width="1" fill="none"/>
<text x="748.2" y="158.5" text-anchor="middle" font-size="12" font-weight="bold" fill="#111">,</text>
<text x="782" y="158.5" text-anchor="middle" font-size="12" font-weight="bold" fill="#111">,</text>
<text x="748.2" y="175" text-anchor="middle" font-size="12" font-weight="bold" fill="#111">,</text>
<text x="786.3" y="175" text-anchor="middle" font-size="12" font-weight="bold" fill="#111">,</text>
<text x="748.2" y="191.3" text-anchor="middle" font-size="12" font-weight="bold" fill="#111">,</text>
<text x="786.3" y="191.3" text-anchor="middle" font-size="12" font-weight="bold" fill="#111">,</text>
<text x="823.8" y="191.3" text-anchor="middle" font-size="12" font-weight="bold" fill="#111">,</text>
<text x="822.5" y="158.2" font-size="13.6" fill="#111">TPPP/p25</text>
<text x="822.5" y="175.2" font-size="13.6" fill="#111">LC3B</text>
<text x="864" y="191.7" font-size="13.6" fill="#111">SYN</text>
</svg></body></html>
